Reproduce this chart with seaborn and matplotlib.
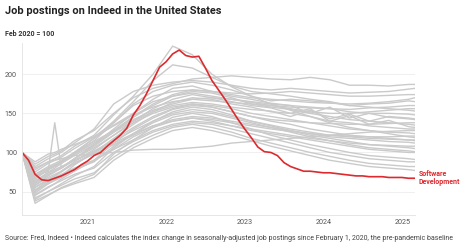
import numpy as np
import pandas as pd
import seaborn as sns
import matplotlib.pyplot as plt

# Indeed job postings index, Feb 2020 = 100
# software development, monthly from Feb 2020 to Feb 2025
sw_dev = [100, 90, 72, 65, 64, 67, 70, 74, 78, 84, 89, 96,
          100, 108, 115, 122, 131, 148, 160, 175, 192, 209, 216, 226,
          231, 224, 222, 223, 208, 192, 180, 168, 155, 142, 130, 119,
          107, 101, 100, 96, 87, 82, 79, 76, 76, 75, 74, 74,
          73, 72, 71, 70, 70, 69, 69, 69, 68, 68, 68, 67, 67]

# other sectors, read at these months after Feb 2020
grid_months = [0, 2, 4, 5, 6, 8, 11, 14, 17, 20, 23, 26, 29, 32, 35, 38, 41, 44, 47, 50, 53, 56, 59, 60]

other_01 = [100, 80, 88, 92, 96, 108, 122, 148, 172, 200, 236, 225, 200, 184, 172, 162, 154, 146, 138, 132, 128, 124, 120, 119]
other_02 = [100, 72, 80, 84, 88, 100, 118, 140, 165, 192, 212, 208, 196, 185, 178, 175, 172, 168, 165, 160, 158, 156, 154, 153]
other_03 = [100, 85, 95, 98, 102, 115, 128, 150, 170, 182, 188, 194, 196, 198, 196, 194, 193, 196, 193, 186, 186, 185, 187, 187]
other_04 = [100, 82, 92, 96, 100, 112, 130, 162, 178, 186, 190, 192, 190, 186, 182, 180, 182, 180, 178, 176, 177, 178, 181, 182]
other_05 = [100, 62, 75, 80, 86, 98, 115, 138, 162, 178, 186, 190, 186, 180, 172, 166, 168, 166, 164, 160, 162, 163, 166, 165]
other_06 = [100, 70, 76, 138, 80, 92, 110, 130, 150, 165, 172, 176, 172, 168, 165, 162, 160, 158, 156, 152, 150, 150, 149, 148]
other_07 = [100, 66, 78, 83, 88, 100, 118, 135, 150, 168, 182, 185, 178, 172, 168, 163, 160, 150, 158, 144, 150, 145, 143, 142]
other_08 = [100, 58, 70, 75, 80, 92, 108, 126, 145, 160, 172, 178, 176, 170, 162, 158, 155, 150, 146, 142, 140, 138, 136, 135]
other_09 = [100, 52, 64, 70, 76, 88, 104, 122, 140, 156, 168, 174, 170, 165, 160, 157, 150, 156, 140, 147, 136, 141, 133, 132]
other_10 = [100, 48, 60, 65, 70, 84, 100, 118, 136, 152, 164, 170, 168, 162, 158, 152, 150, 146, 140, 138, 134, 132, 130, 130]
other_11 = [100, 75, 86, 90, 94, 105, 120, 134, 148, 158, 165, 168, 166, 164, 162, 160, 158, 157, 156, 155, 157, 158, 160, 160]
other_12 = [100, 68, 78, 82, 86, 96, 110, 126, 140, 152, 160, 164, 162, 158, 155, 153, 146, 154, 143, 149, 140, 146, 144, 143]
other_13 = [100, 55, 66, 70, 75, 86, 100, 116, 132, 146, 156, 162, 160, 156, 150, 146, 142, 138, 134, 130, 128, 126, 125, 124]
other_14 = [100, 45, 55, 60, 66, 76, 90, 112, 130, 144, 155, 160, 158, 152, 146, 140, 136, 130, 126, 122, 120, 118, 116, 115]
other_15 = [100, 40, 50, 55, 60, 70, 82, 106, 124, 140, 152, 158, 155, 148, 140, 134, 128, 122, 118, 114, 110, 108, 106, 105]
other_16 = [100, 35, 45, 50, 55, 62, 72, 98, 116, 132, 145, 150, 146, 138, 130, 122, 116, 110, 105, 100, 96, 94, 92, 91]
other_17 = [100, 60, 72, 76, 80, 90, 102, 115, 128, 140, 150, 155, 152, 146, 140, 135, 130, 126, 122, 120, 118, 117, 116, 116]
other_18 = [100, 50, 62, 66, 70, 78, 88, 108, 124, 138, 148, 152, 150, 144, 138, 132, 126, 120, 115, 110, 106, 104, 102, 101]
other_19 = [100, 58, 68, 72, 76, 86, 98, 110, 122, 134, 142, 146, 144, 140, 136, 132, 128, 124, 120, 118, 116, 114, 113, 112]
other_20 = [100, 64, 74, 78, 82, 90, 100, 112, 124, 134, 140, 144, 142, 138, 134, 130, 127, 124, 122, 121, 120, 120, 121, 121]
other_21 = [100, 78, 88, 90, 92, 96, 98, 100, 103, 104, 104, 106, 108, 112, 114, 116, 118, 120, 122, 124, 126, 127, 128, 128]
other_22 = [100, 56, 64, 68, 72, 80, 90, 104, 116, 128, 136, 140, 138, 134, 130, 126, 122, 118, 115, 112, 110, 109, 108, 108]
other_23 = [100, 46, 56, 60, 64, 72, 80, 100, 114, 126, 134, 138, 136, 130, 124, 118, 112, 106, 100, 96, 92, 90, 88, 88]
other_24 = [100, 42, 50, 54, 58, 66, 74, 94, 110, 122, 132, 136, 132, 126, 118, 112, 106, 100, 95, 90, 86, 84, 82, 82]
other_25 = [100, 38, 46, 50, 54, 60, 68, 90, 106, 118, 128, 132, 128, 122, 115, 108, 102, 96, 90, 86, 82, 80, 78, 77]
other_26 = [100, 70, 80, 84, 88, 98, 112, 128, 146, 162, 174, 180, 178, 174, 170, 168, 166, 164, 163, 162, 163, 165, 168, 170]
other_27 = [100, 88, 98, 100, 104, 110, 120, 138, 160, 172, 178, 180, 178, 176, 175, 176, 178, 176, 174, 172, 172, 173, 174, 174]
other_28 = [100, 62, 72, 76, 80, 92, 106, 122, 138, 150, 158, 162, 158, 152, 146, 142, 140, 138, 137, 136, 136, 137, 138, 138]
other_29 = [100, 52, 60, 64, 68, 78, 90, 104, 120, 132, 140, 144, 140, 134, 128, 124, 120, 116, 112, 108, 104, 102, 100, 100]
other_30 = [100, 72, 82, 86, 90, 100, 114, 128, 142, 154, 162, 168, 170, 168, 164, 160, 156, 152, 150, 150, 152, 154, 156, 156]

others = [other_01, other_02, other_03, other_04, other_05, other_06, other_07, other_08,
          other_09, other_10, other_11, other_12, other_13, other_14, other_15, other_16,
          other_17, other_18, other_19, other_20, other_21, other_22, other_23, other_24,
          other_25, other_26, other_27, other_28, other_29, other_30]

year_ticks = [2021, 2022, 2023, 2024, 2025]

start = 2020.16  # first weekly reading, late Feb 2020

rows = []
for k, vals in enumerate(others):
    for m, v in zip(grid_months, vals):
        rows.append({'sector': 'other_%02d' % (k + 1), 'date': start + m / 12, 'index': v})
df_other = pd.DataFrame(rows)
df_sw = pd.DataFrame({'date': start + np.arange(len(sw_dev)) / 12, 'index': sw_dev})

sns.set_theme(style='white')
plt.rcParams['font.family'] = ['Roboto', 'DejaVu Sans']

fig = plt.figure(figsize=(4.74, 2.48), dpi=100)
ax = fig.add_axes([22 / 474, 1 - 215 / 248, (415 - 22) / 474, 172 / 248])

sns.lineplot(data=df_other, x='date', y='index', hue='sector',
             palette=['#cacaca'] * len(others), legend=False, linewidth=1.0, ax=ax)
sns.lineplot(data=df_sw, x='date', y='index', color='#dc2a2f', linewidth=1.2, ax=ax)

ax.set_xlim(start, start + 60 / 12)
ax.set_ylim(20, 240)
ax.set_yticks([50, 100, 150, 200])
ax.set_xticks(year_ticks)
ax.set_xticklabels([str(y) for y in year_ticks])
ax.set_xlabel('')
ax.set_ylabel('')
ax.grid(axis='y', color='#efefef', linewidth=0.7)
ax.set_axisbelow(True)
ax.tick_params(axis='both', length=0, labelsize=5.2, colors='#555555')
ax.tick_params(axis='y', pad=3.6)
ax.tick_params(axis='x', pad=3.0)
for s in ['top', 'right']:
    ax.spines[s].set_visible(False)
for s in ['left', 'bottom']:
    ax.spines[s].set_color('#e6e6e6')
    ax.spines[s].set_linewidth(0.7)

ax.annotate('Software\nDevelopment', xy=(df_sw['date'].iloc[-1], sw_dev[-1]),
            xytext=(2.5, 0), textcoords='offset points', va='center', ha='left',
            fontsize=5.0, fontweight='bold', color='#dc2a2f', linespacing=1.0,
            annotation_clip=False)

fig.text(5 / 474, 1 - 11 / 248, 'Job postings on Indeed in the United States',
         fontsize=7.9, fontweight='bold', color='#222222', va='center', ha='left')
fig.text(5 / 474, 1 - 34 / 248, 'Feb 2020 = 100',
         fontsize=5.0, fontweight='bold', color='#333333', va='center', ha='left')
fig.text(5 / 474, 1 - 239 / 248,
         'Source: Fred, Indeed \u2022 Indeed calculates the index change in seasonally-adjusted '
         'job postings since February 1, 2020, the pre-pandemic baseline',
         fontsize=5.0, color='#444444', va='center', ha='left')

fig.savefig('out.png', dpi=100)
